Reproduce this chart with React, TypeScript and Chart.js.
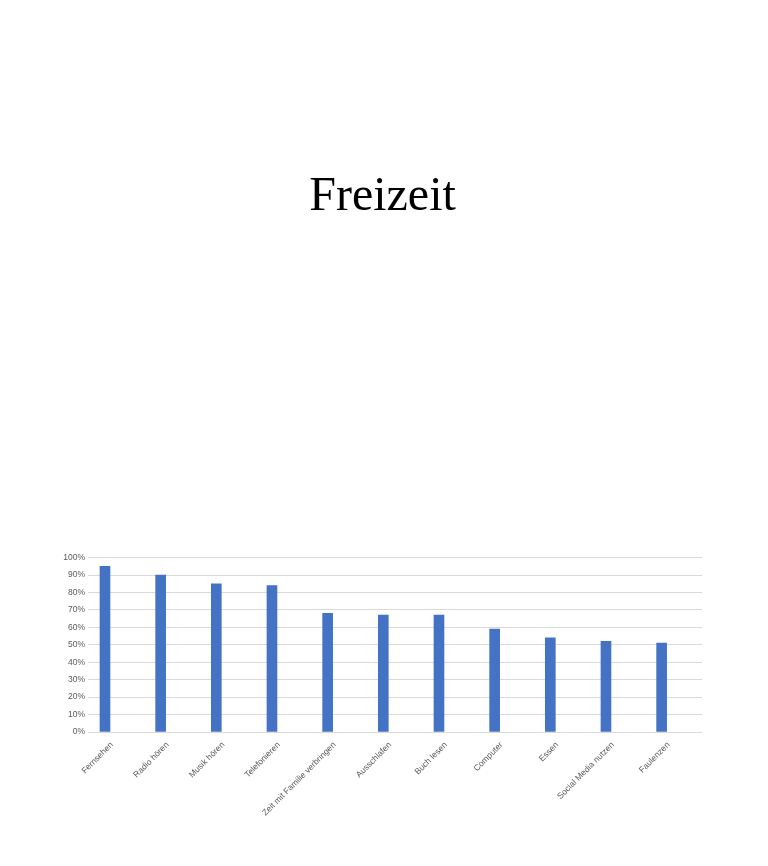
import React, { useEffect, useRef } from "react";
import { Chart, registerables } from "chart.js";

Chart.register(...registerables);

const chartTitle = "Freizeit";
const categories = [
  "Fernsehen",
  "Radio hören",
  "Musik hören",
  "Telefonieren",
  "Zeit mit Familie verbringen",
  "Ausschlafen",
  "Buch lesen",
  "Computer",
  "Essen",
  "Social Media nutzen",
  "Faulenzen",
];
const values = [95, 90, 85, 84, 68, 67, 67, 59, 54, 52, 51];
const yMin = 0;
const yMax = 100;
const yStep = 10;

export default function App() {
  const ref = useRef<HTMLCanvasElement>(null);

  useEffect(() => {
    if (!ref.current) return;
    const chart = new Chart(ref.current, {
      type: "bar",
      data: {
        datasets: [
          {
            data: categories.map((_, i) => ({ x: i, y: values[i] })),
            backgroundColor: "#4472C4",
            barThickness: 10,
          },
        ],
      },
      options: {
        animation: false,
        responsive: false,
        layout: { padding: { left: 63, right: 66, top: 0, bottom: 0 } },
        plugins: {
          legend: { display: false },
          tooltip: { enabled: false },
          title: {
            display: true,
            text: chartTitle,
            color: "#000000",
            font: { family: "'Liberation Serif', 'Times New Roman', serif", size: 48, weight: "normal", lineHeight: 1.2 },
            padding: { top: 169, bottom: 331 },
          },
        },
        scales: {
          x: {
            type: "linear",
            min: -0.305,
            max: 10.725,
            offset: false,
            grid: { display: false },
            border: { display: false },
            ticks: {
              stepSize: 1,
              includeBounds: false,
              autoSkip: false,
              minRotation: 45,
              maxRotation: 45,
              padding: 0,
              labelOffset: 7,
              color: "#595959",
              font: { family: "'Liberation Sans', Arial, sans-serif", size: 8.5 },
              callback: (v: any) => categories[Math.round(Number(v))] ?? "",
            },
            afterFit: (s: any) => {
              s.height = 134;
            },
          },
          y: {
            min: yMin,
            max: yMax,
            grid: { color: "#d9d9d9", lineWidth: 1, drawTicks: false },
            border: { display: false },
            ticks: {
              stepSize: yStep,
              padding: 3,
              color: "#595959",
              font: { family: "'Liberation Sans', Arial, sans-serif", size: 8.5 },
              callback: (v: any) => `${v}%`,
            },
            afterFit: (s: any) => {
              s.width = 25;
            },
          },
        },
      },
    });
    return () => chart.destroy();
  }, []);

  return (
    <div style={{ position: "absolute", left: 0, top: 0, width: 768, height: 866, background: "#fff" }}>
      <canvas ref={ref} width={768} height={866} style={{ width: 768, height: 866, display: "block" }} />
    </div>
  );
}
